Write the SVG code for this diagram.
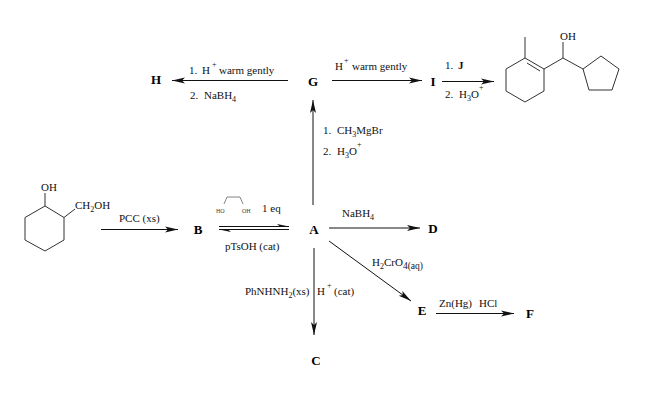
<svg xmlns="http://www.w3.org/2000/svg" width="645" height="418" viewBox="0 0 645 418">
<style>
text{font-family:"Liberation Serif","Times New Roman",serif;font-size:11px;fill:#111}
.n{font-size:13px;font-weight:bold;text-anchor:middle;fill:#000}
.s{font-size:8px}
.q{font-size:9.5px}
.t{font-size:6px;fill:#444}
.b{fill:none;stroke:#333;stroke-width:1;stroke-linejoin:round}
.d{fill:none;stroke:#666;stroke-width:.8}
.c{fill:none;stroke:#111;stroke-width:1}
.a{marker-end:url(#h)}
</style>
<defs>
<marker id="h" markerUnits="userSpaceOnUse" markerWidth="14" markerHeight="8" refX="13" refY="4" orient="auto">
<path d="M0 1 L13 4 L0 7 L3 4 Z" fill="#111"/>
</marker>
</defs>
<rect width="645" height="418" fill="#fff"/>
<g id="connectors">
<line class="c a" x1="101" y1="229.5" x2="178" y2="229.5"/>
<line class="c" x1="219" y1="226.5" x2="289" y2="226.5"/>
<path d="M277 224 L289 226.5 L280 226.5 Z" fill="#111"/>
<line class="c" x1="219" y1="229.5" x2="289" y2="229.5"/>
<path d="M231 232 L219 229.5 L228 229.5 Z" fill="#111"/>
<line class="c a" x1="313" y1="205" x2="313" y2="100"/>
<line class="c a" x1="288" y1="80.5" x2="172" y2="80.5"/>
<line class="c a" x1="332" y1="80.5" x2="422" y2="80.5"/>
<line class="c a" x1="442" y1="81.5" x2="494" y2="81.5"/>
<line class="c a" x1="329" y1="228" x2="420" y2="228"/>
<line class="c a" x1="329" y1="241" x2="411" y2="301"/>
<line class="c a" x1="436" y1="313.5" x2="514" y2="313.5"/>
<line class="c a" x1="314" y1="248" x2="314" y2="335"/>
</g>
<g id="start-molecule">
<path class="b" d="M45 206 L64 217.5 L64 240 L45 251 L25 240 L25 217.5 Z M45 206 L45 193 M64 217.5 L75 209"/>
<text x="41" y="191">OH</text>
<text x="75" y="209">CH<tspan class="s" dy="3">2</tspan><tspan dy="-3">OH</tspan></text>
</g>
<g id="product-molecule">
<path class="b" d="M525 58 L544 69 L544 91 L525 102 L506 91 L506 69 Z M525 58 L525 37 M527 63 L540 71 M544 69 L563 58 L563 42 M563 58 L583 69 L601 56 L619 69 L612 90 L589 90 L583 69"/>
<text x="560" y="40">OH</text>
</g>
<g id="diol">
<path class="d" d="M224 204 L227 197 L240 197 L243 204"/>
<text class="t" x="216" y="213">HO</text>
<text class="t" x="242" y="213">OH</text>
</g>
<g id="labels">
<text x="119" y="222">PCC (xs)</text>
<text x="262" y="212">1 eq</text>
<text x="225" y="250">pTsOH (cat)</text>
<text x="189" y="74">1.<tspan x="202">H</tspan><tspan class="s" x="212" dy="-7">+</tspan><tspan x="219" dy="7">warm gently</tspan></text>
<text x="190" y="99">2.<tspan x="204">NaBH</tspan><tspan class="s" dy="3">4</tspan></text>
<text x="335" y="70">H<tspan class="s" x="344" dy="-7">+</tspan><tspan x="352" dy="7">warm gently</tspan></text>
<text x="323" y="134">1.<tspan x="337">CH</tspan><tspan class="s" dy="3">3</tspan><tspan dy="-3">MgBr</tspan></text>
<text x="323" y="155">2.<tspan x="337">H</tspan><tspan class="s" dy="3">3</tspan><tspan dy="-3">O</tspan><tspan class="s" dy="-8">+</tspan></text>
<text x="445" y="69">1.<tspan x="458" font-weight="bold">J</tspan></text>
<text x="445" y="98">2.<tspan x="459">H</tspan><tspan class="s" dy="3">3</tspan><tspan dy="-3">O</tspan><tspan class="s" dy="-8">+</tspan></text>
<text x="342" y="217">NaBH<tspan class="s" dy="3">4</tspan></text>
<text x="372" y="266">H<tspan class="s" dy="3">2</tspan><tspan dy="-3">CrO</tspan><tspan class="q" dy="3">4(aq)</tspan></text>
<text x="439" y="307">Zn(Hg)<tspan x="479">HCl</tspan></text>
<text x="245" y="295">PhNHNH<tspan class="s" dy="3">2</tspan><tspan dy="-3">(xs)</tspan></text>
<text x="317" y="295">H<tspan class="s" x="327" dy="-7">+</tspan><tspan x="334" dy="7">(cat)</tspan></text>
</g>
<g id="node-A"><text class="n" x="314" y="234">A</text></g>
<g id="node-B"><text class="n" x="198" y="234">B</text></g>
<g id="node-C"><text class="n" x="316" y="365">C</text></g>
<g id="node-D"><text class="n" x="433" y="233">D</text></g>
<g id="node-E"><text class="n" x="422" y="315">E</text></g>
<g id="node-F"><text class="n" x="530" y="318">F</text></g>
<g id="node-G"><text class="n" x="313" y="86">G</text></g>
<g id="node-H"><text class="n" x="156" y="84">H</text></g>
<g id="node-I"><text class="n" x="433" y="86">I</text></g>
</svg>
